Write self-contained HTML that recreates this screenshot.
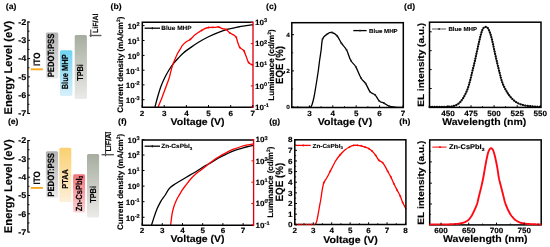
<!DOCTYPE html>
<html lang="en">
<head>
<meta charset="utf-8">
<title>Device energy levels, J-V-L, EQE and EL spectra</title>
<style>
html,body{margin:0;padding:0;background:#fff;}
body{width:550px;height:247px;overflow:hidden;}
svg{display:block;font-family:"Liberation Sans", Arial, sans-serif;text-rendering:geometricPrecision;}
</style>
</head>
<body>
<svg width="550" height="247" viewBox="0 0 550 247">
<rect x="0" y="0" width="550" height="247" fill="#ffffff"/>
<defs>
<linearGradient id="gGray" x1="0" y1="0" x2="0" y2="1"><stop offset="0" stop-color="#b2b2b2"/><stop offset="1" stop-color="#ebebeb"/></linearGradient>
<linearGradient id="gBlue" x1="0" y1="0" x2="0" y2="1"><stop offset="0" stop-color="#6fd3f2"/><stop offset="1" stop-color="#d8f0fa"/></linearGradient>
<linearGradient id="gTpbi" x1="0" y1="0" x2="0" y2="1"><stop offset="0" stop-color="#a6ad9f"/><stop offset="1" stop-color="#ebebe9"/></linearGradient>
<linearGradient id="gPtaa" x1="0" y1="0" x2="0" y2="1"><stop offset="0" stop-color="#fad070"/><stop offset="1" stop-color="#fdf0da"/></linearGradient>
<linearGradient id="gRed" x1="0" y1="0" x2="0" y2="1"><stop offset="0" stop-color="#f2747a"/><stop offset="1" stop-color="#fbd6d7"/></linearGradient>
</defs>
<text font-size="8.0" stroke="#000" stroke-width="0.14" text-anchor="start" fill="#000" font-weight="bold" transform="translate(5.80 9.20) scale(1.08 1)">(a)</text>
<line x1="27.90" y1="21.30" x2="27.90" y2="114.00" stroke="#000" stroke-width="1.3" stroke-linecap="butt"/>
<line x1="27.90" y1="22.00" x2="30.10" y2="22.00" stroke="#000" stroke-width="1.0" stroke-linecap="butt"/>
<line x1="27.90" y1="31.15" x2="29.50" y2="31.15" stroke="#000" stroke-width="0.9" stroke-linecap="butt"/>
<text font-size="8.4" stroke="#000" stroke-width="0.14" text-anchor="end" fill="#000" font-weight="bold" transform="translate(26.20 24.75) scale(1.08 1)">-2</text>
<line x1="27.90" y1="40.30" x2="30.10" y2="40.30" stroke="#000" stroke-width="1.0" stroke-linecap="butt"/>
<line x1="27.90" y1="49.45" x2="29.50" y2="49.45" stroke="#000" stroke-width="0.9" stroke-linecap="butt"/>
<text font-size="8.4" stroke="#000" stroke-width="0.14" text-anchor="end" fill="#000" font-weight="bold" transform="translate(26.20 43.05) scale(1.08 1)">-3</text>
<line x1="27.90" y1="58.60" x2="30.10" y2="58.60" stroke="#000" stroke-width="1.0" stroke-linecap="butt"/>
<line x1="27.90" y1="67.75" x2="29.50" y2="67.75" stroke="#000" stroke-width="0.9" stroke-linecap="butt"/>
<text font-size="8.4" stroke="#000" stroke-width="0.14" text-anchor="end" fill="#000" font-weight="bold" transform="translate(26.20 61.35) scale(1.08 1)">-4</text>
<line x1="27.90" y1="76.90" x2="30.10" y2="76.90" stroke="#000" stroke-width="1.0" stroke-linecap="butt"/>
<line x1="27.90" y1="86.05" x2="29.50" y2="86.05" stroke="#000" stroke-width="0.9" stroke-linecap="butt"/>
<text font-size="8.4" stroke="#000" stroke-width="0.14" text-anchor="end" fill="#000" font-weight="bold" transform="translate(26.20 79.65) scale(1.08 1)">-5</text>
<line x1="27.90" y1="95.20" x2="30.10" y2="95.20" stroke="#000" stroke-width="1.0" stroke-linecap="butt"/>
<line x1="27.90" y1="104.35" x2="29.50" y2="104.35" stroke="#000" stroke-width="0.9" stroke-linecap="butt"/>
<text font-size="8.4" stroke="#000" stroke-width="0.14" text-anchor="end" fill="#000" font-weight="bold" transform="translate(26.20 97.95) scale(1.08 1)">-6</text>
<line x1="27.90" y1="113.50" x2="30.10" y2="113.50" stroke="#000" stroke-width="1.0" stroke-linecap="butt"/>
<text font-size="8.4" stroke="#000" stroke-width="0.14" text-anchor="end" fill="#000" font-weight="bold" transform="translate(26.20 116.25) scale(1.08 1)">-7</text>
<text font-size="11.2" stroke="#000" stroke-width="0.14" text-anchor="middle" fill="#000" font-weight="bold" transform="translate(11.50 67.60) scale(1.0 1) rotate(-90)">Energy Level (eV)</text>
<line x1="30.70" y1="69.31" x2="42.90" y2="69.31" stroke="#f8a91f" stroke-width="1.9" stroke-linecap="butt"/>
<text font-size="8.1" stroke="#000" stroke-width="0.14" text-anchor="start" fill="#000" font-weight="bold" transform="translate(40.00 65.91) scale(1.15 1) rotate(-90)">ITO</text>
<rect x="45.90" y="32.60" width="12.40" height="46.00" fill="url(#gGray)" stroke="none" stroke-width="1.0" rx="1.5"/>
<text font-size="7.7" stroke="#000" stroke-width="0.14" text-anchor="middle" fill="#000" font-weight="bold" transform="translate(54.30 55.50) scale(1.18 1) rotate(-90)">PEDOT:PSS</text>
<rect x="60.00" y="50.20" width="12.40" height="45.70" fill="url(#gBlue)" stroke="none" stroke-width="1.0" rx="1.5"/>
<text font-size="7.5" stroke="#000" stroke-width="0.14" text-anchor="middle" fill="#000" font-weight="bold" transform="translate(68.10 71.80) scale(1.18 1) rotate(-90)">Blue MHP</text>
<rect x="74.70" y="34.90" width="12.20" height="64.20" fill="url(#gTpbi)" stroke="none" stroke-width="1.0" rx="1.5"/>
<text font-size="7.3" stroke="#000" stroke-width="0.14" text-anchor="middle" fill="#000" font-weight="bold" transform="translate(83.00 72.50) scale(1.18 1) rotate(-90)">TPBi</text>
<line x1="90.80" y1="29.50" x2="90.80" y2="37.10" stroke="#333" stroke-width="1.0" stroke-linecap="butt"/>
<line x1="89.50" y1="35.50" x2="101.40" y2="35.50" stroke="#5a5a5a" stroke-width="1.4" stroke-linecap="butt"/>
<text font-size="7.0" stroke="#000" stroke-width="0.14" text-anchor="start" fill="#000" font-weight="bold" transform="translate(97.50 33.00) scale(1.08 1) rotate(-90)">LiF/Al</text>
<text font-size="8.0" stroke="#000" stroke-width="0.14" text-anchor="start" fill="#000" font-weight="bold" transform="translate(7.90 123.70) scale(1.08 1)">(e)</text>
<line x1="27.90" y1="139.90" x2="27.90" y2="232.60" stroke="#000" stroke-width="1.3" stroke-linecap="butt"/>
<line x1="27.90" y1="140.60" x2="30.10" y2="140.60" stroke="#000" stroke-width="1.0" stroke-linecap="butt"/>
<line x1="27.90" y1="149.75" x2="29.50" y2="149.75" stroke="#000" stroke-width="0.9" stroke-linecap="butt"/>
<text font-size="8.4" stroke="#000" stroke-width="0.14" text-anchor="end" fill="#000" font-weight="bold" transform="translate(26.20 143.35) scale(1.08 1)">-2</text>
<line x1="27.90" y1="158.90" x2="30.10" y2="158.90" stroke="#000" stroke-width="1.0" stroke-linecap="butt"/>
<line x1="27.90" y1="168.05" x2="29.50" y2="168.05" stroke="#000" stroke-width="0.9" stroke-linecap="butt"/>
<text font-size="8.4" stroke="#000" stroke-width="0.14" text-anchor="end" fill="#000" font-weight="bold" transform="translate(26.20 161.65) scale(1.08 1)">-3</text>
<line x1="27.90" y1="177.20" x2="30.10" y2="177.20" stroke="#000" stroke-width="1.0" stroke-linecap="butt"/>
<line x1="27.90" y1="186.35" x2="29.50" y2="186.35" stroke="#000" stroke-width="0.9" stroke-linecap="butt"/>
<text font-size="8.4" stroke="#000" stroke-width="0.14" text-anchor="end" fill="#000" font-weight="bold" transform="translate(26.20 179.95) scale(1.08 1)">-4</text>
<line x1="27.90" y1="195.50" x2="30.10" y2="195.50" stroke="#000" stroke-width="1.0" stroke-linecap="butt"/>
<line x1="27.90" y1="204.65" x2="29.50" y2="204.65" stroke="#000" stroke-width="0.9" stroke-linecap="butt"/>
<text font-size="8.4" stroke="#000" stroke-width="0.14" text-anchor="end" fill="#000" font-weight="bold" transform="translate(26.20 198.25) scale(1.08 1)">-5</text>
<line x1="27.90" y1="213.80" x2="30.10" y2="213.80" stroke="#000" stroke-width="1.0" stroke-linecap="butt"/>
<line x1="27.90" y1="222.95" x2="29.50" y2="222.95" stroke="#000" stroke-width="0.9" stroke-linecap="butt"/>
<text font-size="8.4" stroke="#000" stroke-width="0.14" text-anchor="end" fill="#000" font-weight="bold" transform="translate(26.20 216.55) scale(1.08 1)">-6</text>
<line x1="27.90" y1="232.10" x2="30.10" y2="232.10" stroke="#000" stroke-width="1.0" stroke-linecap="butt"/>
<text font-size="8.4" stroke="#000" stroke-width="0.14" text-anchor="end" fill="#000" font-weight="bold" transform="translate(26.20 234.85) scale(1.08 1)">-7</text>
<text font-size="11.2" stroke="#000" stroke-width="0.14" text-anchor="middle" fill="#000" font-weight="bold" transform="translate(11.50 186.20) scale(1.0 1) rotate(-90)">Energy Level (eV)</text>
<line x1="30.70" y1="187.91" x2="42.90" y2="187.91" stroke="#f8a91f" stroke-width="1.9" stroke-linecap="butt"/>
<text font-size="8.1" stroke="#000" stroke-width="0.14" text-anchor="start" fill="#000" font-weight="bold" transform="translate(40.00 184.51) scale(1.15 1) rotate(-90)">ITO</text>
<rect x="45.90" y="151.30" width="12.20" height="46.50" fill="url(#gGray)" stroke="none" stroke-width="1.0" rx="1.5"/>
<text font-size="7.7" stroke="#000" stroke-width="0.14" text-anchor="middle" fill="#000" font-weight="bold" transform="translate(54.30 174.90) scale(1.18 1) rotate(-90)">PEDOT:PSS</text>
<rect x="59.30" y="147.70" width="12.00" height="54.30" fill="url(#gPtaa)" stroke="none" stroke-width="1.0" rx="1.5"/>
<text font-size="7.3" stroke="#000" stroke-width="0.14" text-anchor="middle" fill="#000" font-weight="bold" transform="translate(68.40 179.00) scale(1.18 1) rotate(-90)">PTAA</text>
<rect x="73.10" y="174.20" width="12.00" height="38.40" fill="url(#gRed)" stroke="none" stroke-width="1.0" rx="1.5"/>
<text font-size="7.5" stroke="#000" stroke-width="0.14" text-anchor="middle" fill="#000" font-weight="bold" transform="translate(81.60 193.50) scale(1.18 1) rotate(-90)">Zn-CsPbI<tspan font-size="4.9" dy="1.5">3</tspan></text>
<rect x="87.00" y="153.90" width="12.10" height="63.70" fill="url(#gTpbi)" stroke="none" stroke-width="1.0" rx="1.5"/>
<text font-size="7.3" stroke="#000" stroke-width="0.14" text-anchor="middle" fill="#000" font-weight="bold" transform="translate(95.60 194.40) scale(1.18 1) rotate(-90)">TPBi</text>
<line x1="105.60" y1="131.80" x2="105.60" y2="156.30" stroke="#333" stroke-width="1.0" stroke-linecap="butt"/>
<line x1="101.60" y1="154.70" x2="113.90" y2="154.70" stroke="#5a5a5a" stroke-width="1.4" stroke-linecap="butt"/>
<text font-size="7.2" stroke="#000" stroke-width="0.14" text-anchor="start" fill="#000" font-weight="bold" transform="translate(111.20 151.60) scale(1.08 1) rotate(-90)">LiF/Al</text>
<text font-size="8.0" stroke="#000" stroke-width="0.14" text-anchor="start" fill="#000" font-weight="bold" transform="translate(110.60 9.10) scale(1.08 1)">(b)</text>
<path d="M154.90,107.20 C155.37,105.47 156.72,100.20 157.70,96.80 C158.68,93.40 159.65,89.93 160.80,86.80 C161.95,83.67 163.23,80.80 164.60,78.00 C165.97,75.20 167.53,72.38 169.00,70.00 C170.47,67.62 171.83,65.70 173.40,63.70 C174.97,61.70 176.73,59.78 178.40,58.00 C180.07,56.22 181.32,54.77 183.40,53.00 C185.48,51.23 188.38,49.18 190.90,47.40 C193.42,45.62 195.65,44.03 198.50,42.30 C201.35,40.57 204.75,38.62 208.00,37.00 C211.25,35.38 214.67,33.90 218.00,32.60 C221.33,31.30 224.67,30.13 228.00,29.20 C231.33,28.27 235.00,27.58 238.00,27.00 C241.00,26.42 243.53,26.07 246.00,25.70 C248.47,25.33 251.67,24.95 252.80,24.80" fill="none" stroke="#000" stroke-width="1.3" stroke-linejoin="round" stroke-linecap="round"/>
<path d="M158.00,107.20 C158.47,106.10 159.70,103.38 160.80,100.60 C161.90,97.82 163.23,94.18 164.60,90.50 C165.97,86.82 167.95,81.72 169.00,78.50 C170.05,75.28 170.28,73.47 170.90,71.20 C171.52,68.93 171.98,66.98 172.70,64.90 C173.42,62.82 174.35,60.68 175.20,58.70 C176.05,56.72 176.85,54.78 177.80,53.00 C178.75,51.22 180.17,49.22 180.90,48.00 C181.63,46.78 181.37,46.70 182.20,45.70 C183.03,44.70 184.55,43.05 185.90,42.00 C187.25,40.95 188.83,40.55 190.30,39.40 C191.77,38.25 193.13,36.40 194.70,35.10 C196.27,33.80 198.23,32.57 199.70,31.60 C201.17,30.63 202.03,29.98 203.50,29.30 C204.97,28.62 206.62,27.83 208.50,27.50 C210.38,27.17 213.12,27.38 214.80,27.30 C216.48,27.22 217.35,26.78 218.60,27.00 C219.85,27.22 221.05,28.20 222.30,28.60 C223.55,29.00 224.83,28.67 226.10,29.40 C227.37,30.13 228.65,32.08 229.90,33.00 C231.15,33.92 232.55,34.20 233.60,34.90 C234.65,35.60 235.53,36.02 236.20,37.20 C236.87,38.38 236.98,40.27 237.60,42.00 C238.22,43.73 238.88,46.18 239.90,47.60 C240.92,49.02 242.65,49.02 243.70,50.50 C244.75,51.98 245.37,54.48 246.20,56.50 C247.03,58.52 247.60,61.20 248.70,62.60 C249.80,64.00 252.12,64.52 252.80,64.90" fill="none" stroke="#f00" stroke-width="1.3" stroke-linejoin="round" stroke-linecap="round"/>
<polyline points="253.00,22.20 142.30,22.20 142.30,107.20 253.00,107.20" fill="none" stroke="#000" stroke-width="1.5" stroke-linejoin="miter"/>
<line x1="253.00" y1="21.45" x2="253.00" y2="107.95" stroke="#e2000e" stroke-width="1.35" stroke-linecap="butt"/>
<line x1="142.30" y1="25.60" x2="144.50" y2="25.60" stroke="#000" stroke-width="1.0" stroke-linecap="butt"/>
<text font-size="7.5" stroke="#000" stroke-width="0.14" text-anchor="end" fill="#000" font-weight="bold" transform="translate(139.70 28.90) scale(1.08 1)">10<tspan font-size="5.25" dy="-2.85">2</tspan></text>
<line x1="142.30" y1="40.50" x2="144.50" y2="40.50" stroke="#000" stroke-width="1.0" stroke-linecap="butt"/>
<text font-size="7.5" stroke="#000" stroke-width="0.14" text-anchor="end" fill="#000" font-weight="bold" transform="translate(139.70 43.80) scale(1.08 1)">10<tspan font-size="5.25" dy="-2.85">1</tspan></text>
<line x1="142.30" y1="55.40" x2="144.50" y2="55.40" stroke="#000" stroke-width="1.0" stroke-linecap="butt"/>
<text font-size="7.5" stroke="#000" stroke-width="0.14" text-anchor="end" fill="#000" font-weight="bold" transform="translate(139.70 58.70) scale(1.08 1)">10<tspan font-size="5.25" dy="-2.85">0</tspan></text>
<line x1="142.30" y1="70.20" x2="144.50" y2="70.20" stroke="#000" stroke-width="1.0" stroke-linecap="butt"/>
<text font-size="7.5" stroke="#000" stroke-width="0.14" text-anchor="end" fill="#000" font-weight="bold" transform="translate(139.70 73.50) scale(1.08 1)">10<tspan font-size="5.25" dy="-2.85">-1</tspan></text>
<line x1="142.30" y1="84.90" x2="144.50" y2="84.90" stroke="#000" stroke-width="1.0" stroke-linecap="butt"/>
<text font-size="7.5" stroke="#000" stroke-width="0.14" text-anchor="end" fill="#000" font-weight="bold" transform="translate(139.70 88.20) scale(1.08 1)">10<tspan font-size="5.25" dy="-2.85">-2</tspan></text>
<line x1="142.30" y1="99.70" x2="144.50" y2="99.70" stroke="#000" stroke-width="1.0" stroke-linecap="butt"/>
<text font-size="7.5" stroke="#000" stroke-width="0.14" text-anchor="end" fill="#000" font-weight="bold" transform="translate(139.70 103.00) scale(1.08 1)">10<tspan font-size="5.25" dy="-2.85">-3</tspan></text>
<line x1="250.80" y1="22.40" x2="253.00" y2="22.40" stroke="#e8000a" stroke-width="1.0" stroke-linecap="butt"/>
<text font-size="7.5" stroke="#000" stroke-width="0.14" text-anchor="start" fill="#000" font-weight="bold" transform="translate(254.90 25.15) scale(1.08 1)">10<tspan font-size="5.25" dy="-2.85">3</tspan></text>
<line x1="250.80" y1="43.60" x2="253.00" y2="43.60" stroke="#e8000a" stroke-width="1.0" stroke-linecap="butt"/>
<text font-size="7.5" stroke="#000" stroke-width="0.14" text-anchor="start" fill="#000" font-weight="bold" transform="translate(254.90 46.35) scale(1.08 1)">10<tspan font-size="5.25" dy="-2.85">2</tspan></text>
<line x1="250.80" y1="64.70" x2="253.00" y2="64.70" stroke="#e8000a" stroke-width="1.0" stroke-linecap="butt"/>
<text font-size="7.5" stroke="#000" stroke-width="0.14" text-anchor="start" fill="#000" font-weight="bold" transform="translate(254.90 67.45) scale(1.08 1)">10<tspan font-size="5.25" dy="-2.85">1</tspan></text>
<line x1="250.80" y1="85.90" x2="253.00" y2="85.90" stroke="#e8000a" stroke-width="1.0" stroke-linecap="butt"/>
<text font-size="7.5" stroke="#000" stroke-width="0.14" text-anchor="start" fill="#000" font-weight="bold" transform="translate(254.90 88.65) scale(1.08 1)">10<tspan font-size="5.25" dy="-2.85">0</tspan></text>
<line x1="250.80" y1="107.00" x2="253.00" y2="107.00" stroke="#e8000a" stroke-width="1.0" stroke-linecap="butt"/>
<text font-size="7.5" stroke="#000" stroke-width="0.14" text-anchor="start" fill="#000" font-weight="bold" transform="translate(254.90 109.75) scale(1.08 1)">10<tspan font-size="5.25" dy="-2.85">-1</tspan></text>
<line x1="142.10" y1="107.20" x2="142.10" y2="105.00" stroke="#000" stroke-width="1.0" stroke-linecap="butt"/>
<text font-size="7.5" stroke="#000" stroke-width="0.14" text-anchor="middle" fill="#000" font-weight="bold" transform="translate(142.10 115.70) scale(1.08 1)">2</text>
<line x1="164.20" y1="107.20" x2="164.20" y2="105.00" stroke="#000" stroke-width="1.0" stroke-linecap="butt"/>
<text font-size="7.5" stroke="#000" stroke-width="0.14" text-anchor="middle" fill="#000" font-weight="bold" transform="translate(164.20 115.70) scale(1.08 1)">3</text>
<line x1="186.40" y1="107.20" x2="186.40" y2="105.00" stroke="#000" stroke-width="1.0" stroke-linecap="butt"/>
<text font-size="7.5" stroke="#000" stroke-width="0.14" text-anchor="middle" fill="#000" font-weight="bold" transform="translate(186.40 115.70) scale(1.08 1)">4</text>
<line x1="208.50" y1="107.20" x2="208.50" y2="105.00" stroke="#000" stroke-width="1.0" stroke-linecap="butt"/>
<text font-size="7.5" stroke="#000" stroke-width="0.14" text-anchor="middle" fill="#000" font-weight="bold" transform="translate(208.50 115.70) scale(1.08 1)">5</text>
<line x1="230.70" y1="107.20" x2="230.70" y2="105.00" stroke="#000" stroke-width="1.0" stroke-linecap="butt"/>
<text font-size="7.5" stroke="#000" stroke-width="0.14" text-anchor="middle" fill="#000" font-weight="bold" transform="translate(230.70 115.70) scale(1.08 1)">6</text>
<line x1="252.80" y1="107.20" x2="252.80" y2="105.00" stroke="#000" stroke-width="1.0" stroke-linecap="butt"/>
<text font-size="7.5" stroke="#000" stroke-width="0.14" text-anchor="middle" fill="#000" font-weight="bold" transform="translate(252.80 115.70) scale(1.08 1)">7</text>
<text font-size="9.8" stroke="#000" stroke-width="0.14" text-anchor="middle" fill="#000" font-weight="bold" transform="translate(197.60 125.00) scale(1.08 1)" textLength="50.00" lengthAdjust="spacingAndGlyphs">Voltage (V)</text>
<text font-size="8.0" stroke="#000" stroke-width="0.14" text-anchor="middle" fill="#000" font-weight="bold" transform="translate(123.00 64.70) scale(1.0 1) rotate(-90)">Current density (mA/cm<tspan font-size="5" dy="-2.9">2</tspan><tspan dy="2.9">)</tspan></text>
<text font-size="8.0" stroke="#000" stroke-width="0.14" text-anchor="middle" fill="#000" font-weight="bold" transform="translate(274.10 65.00) scale(1.0 1) rotate(-90)">Luminance (cd/m<tspan font-size="5" dy="-2.9">2</tspan><tspan dy="2.9">)</tspan></text>
<line x1="144.60" y1="28.20" x2="160.00" y2="28.20" stroke="#000" stroke-width="1.3" stroke-linecap="butt"/>
<line x1="152.30" y1="27.00" x2="152.30" y2="29.40" stroke="#000" stroke-width="0.8" stroke-linecap="butt"/>
<text font-size="6.0" stroke="#000" stroke-width="0.1" text-anchor="start" fill="#000" font-weight="bold" transform="translate(161.30 30.20) scale(1.08 1)">Blue MHP</text>
<path d="M189.30,39.30h2.00M190.30,38.30v2.00M200.60,30.60h2.00M201.60,29.60v2.00M207.50,27.50h2.00M208.50,26.50v2.00M211.90,27.40h2.00M212.90,26.40v2.00M217.30,27.00h2.00M218.30,26.00v2.00M225.10,29.40h2.00M226.10,28.40v2.00M228.90,33.00h2.00M229.90,32.00v2.00M235.20,37.20h2.00M236.20,36.20v2.00M238.90,47.60h2.00M239.90,46.60v2.00M243.00,50.80h2.00M244.00,49.80v2.00M247.70,62.60h2.00M248.70,61.60v2.00" fill="none" stroke="#f00" stroke-width="0.7"/>
<text font-size="8.0" stroke="#000" stroke-width="0.14" text-anchor="start" fill="#000" font-weight="bold" transform="translate(118.10 123.80) scale(1.08 1)">(f)</text>
<path d="M151.50,225.30 C151.90,224.02 152.97,220.35 153.90,217.60 C154.83,214.85 155.95,211.52 157.10,208.80 C158.25,206.08 159.50,203.52 160.80,201.30 C162.10,199.08 163.53,197.58 164.90,195.50 C166.27,193.42 167.58,190.53 169.00,188.80 C170.42,187.07 171.63,186.35 173.40,185.10 C175.17,183.85 177.52,182.57 179.60,181.30 C181.68,180.03 183.80,178.75 185.90,177.50 C188.00,176.25 190.10,175.05 192.20,173.80 C194.30,172.55 196.20,171.42 198.50,170.00 C200.80,168.58 203.92,166.53 206.00,165.30 C208.08,164.07 208.48,164.03 211.00,162.60 C213.52,161.17 217.33,158.67 221.10,156.70 C224.87,154.73 229.42,152.42 233.60,150.80 C237.78,149.18 242.90,147.92 246.20,147.00 C249.50,146.08 252.20,145.58 253.40,145.30" fill="none" stroke="#000" stroke-width="1.3" stroke-linejoin="round" stroke-linecap="round"/>
<path d="M170.60,225.30 C170.85,223.38 171.53,216.97 172.10,213.80 C172.67,210.63 173.27,208.60 174.00,206.30 C174.73,204.00 175.67,201.80 176.50,200.00 C177.33,198.20 178.05,197.15 179.00,195.50 C179.95,193.85 181.05,191.83 182.20,190.10 C183.35,188.37 184.45,186.98 185.90,185.10 C187.35,183.22 189.22,180.68 190.90,178.80 C192.58,176.92 194.32,175.27 196.00,173.80 C197.68,172.33 199.02,171.53 201.00,170.00 C202.98,168.47 205.60,166.40 207.90,164.60 C210.20,162.80 212.60,160.73 214.80,159.20 C217.00,157.67 219.00,156.58 221.10,155.40 C223.20,154.22 225.32,153.13 227.40,152.10 C229.48,151.07 231.52,150.05 233.60,149.20 C235.68,148.35 237.80,147.67 239.90,147.00 C242.00,146.33 243.95,145.73 246.20,145.20 C248.45,144.67 252.20,144.03 253.40,143.80" fill="none" stroke="#f00" stroke-width="1.3" stroke-linejoin="round" stroke-linecap="round"/>
<polyline points="253.60,139.90 142.30,139.90 142.30,225.30 253.60,225.30" fill="none" stroke="#000" stroke-width="1.5" stroke-linejoin="miter"/>
<line x1="253.60" y1="139.15" x2="253.60" y2="226.05" stroke="#e2000e" stroke-width="1.35" stroke-linecap="butt"/>
<line x1="142.30" y1="139.60" x2="144.50" y2="139.60" stroke="#000" stroke-width="1.0" stroke-linecap="butt"/>
<text font-size="7.5" stroke="#000" stroke-width="0.14" text-anchor="end" fill="#000" font-weight="bold" transform="translate(139.70 142.90) scale(1.08 1)">10<tspan font-size="5.25" dy="-2.85">3</tspan></text>
<line x1="142.30" y1="155.00" x2="144.50" y2="155.00" stroke="#000" stroke-width="1.0" stroke-linecap="butt"/>
<text font-size="7.5" stroke="#000" stroke-width="0.14" text-anchor="end" fill="#000" font-weight="bold" transform="translate(139.70 158.30) scale(1.08 1)">10<tspan font-size="5.25" dy="-2.85">2</tspan></text>
<line x1="142.30" y1="170.50" x2="144.50" y2="170.50" stroke="#000" stroke-width="1.0" stroke-linecap="butt"/>
<text font-size="7.5" stroke="#000" stroke-width="0.14" text-anchor="end" fill="#000" font-weight="bold" transform="translate(139.70 173.80) scale(1.08 1)">10<tspan font-size="5.25" dy="-2.85">1</tspan></text>
<line x1="142.30" y1="186.10" x2="144.50" y2="186.10" stroke="#000" stroke-width="1.0" stroke-linecap="butt"/>
<text font-size="7.5" stroke="#000" stroke-width="0.14" text-anchor="end" fill="#000" font-weight="bold" transform="translate(139.70 189.40) scale(1.08 1)">10<tspan font-size="5.25" dy="-2.85">0</tspan></text>
<line x1="142.30" y1="201.70" x2="144.50" y2="201.70" stroke="#000" stroke-width="1.0" stroke-linecap="butt"/>
<text font-size="7.5" stroke="#000" stroke-width="0.14" text-anchor="end" fill="#000" font-weight="bold" transform="translate(139.70 205.00) scale(1.08 1)">10<tspan font-size="5.25" dy="-2.85">-1</tspan></text>
<line x1="142.30" y1="217.30" x2="144.50" y2="217.30" stroke="#000" stroke-width="1.0" stroke-linecap="butt"/>
<text font-size="7.5" stroke="#000" stroke-width="0.14" text-anchor="end" fill="#000" font-weight="bold" transform="translate(139.70 220.60) scale(1.08 1)">10<tspan font-size="5.25" dy="-2.85">-2</tspan></text>
<line x1="251.40" y1="139.60" x2="253.60" y2="139.60" stroke="#e8000a" stroke-width="1.0" stroke-linecap="butt"/>
<text font-size="7.5" stroke="#000" stroke-width="0.14" text-anchor="start" fill="#000" font-weight="bold" transform="translate(255.50 142.35) scale(1.08 1)">10<tspan font-size="5.25" dy="-2.85">3</tspan></text>
<line x1="251.40" y1="160.90" x2="253.60" y2="160.90" stroke="#e8000a" stroke-width="1.0" stroke-linecap="butt"/>
<text font-size="7.5" stroke="#000" stroke-width="0.14" text-anchor="start" fill="#000" font-weight="bold" transform="translate(255.50 163.65) scale(1.08 1)">10<tspan font-size="5.25" dy="-2.85">2</tspan></text>
<line x1="251.40" y1="182.20" x2="253.60" y2="182.20" stroke="#e8000a" stroke-width="1.0" stroke-linecap="butt"/>
<text font-size="7.5" stroke="#000" stroke-width="0.14" text-anchor="start" fill="#000" font-weight="bold" transform="translate(255.50 184.95) scale(1.08 1)">10<tspan font-size="5.25" dy="-2.85">1</tspan></text>
<line x1="251.40" y1="203.50" x2="253.60" y2="203.50" stroke="#e8000a" stroke-width="1.0" stroke-linecap="butt"/>
<text font-size="7.5" stroke="#000" stroke-width="0.14" text-anchor="start" fill="#000" font-weight="bold" transform="translate(255.50 206.25) scale(1.08 1)">10<tspan font-size="5.25" dy="-2.85">0</tspan></text>
<line x1="251.40" y1="224.80" x2="253.60" y2="224.80" stroke="#e8000a" stroke-width="1.0" stroke-linecap="butt"/>
<text font-size="7.5" stroke="#000" stroke-width="0.14" text-anchor="start" fill="#000" font-weight="bold" transform="translate(255.50 227.55) scale(1.08 1)">10<tspan font-size="5.25" dy="-2.85">-1</tspan></text>
<line x1="142.10" y1="225.30" x2="142.10" y2="223.10" stroke="#000" stroke-width="1.0" stroke-linecap="butt"/>
<text font-size="7.5" stroke="#000" stroke-width="0.14" text-anchor="middle" fill="#000" font-weight="bold" transform="translate(142.10 232.70) scale(1.08 1)">2</text>
<line x1="162.30" y1="225.30" x2="162.30" y2="223.10" stroke="#000" stroke-width="1.0" stroke-linecap="butt"/>
<text font-size="7.5" stroke="#000" stroke-width="0.14" text-anchor="middle" fill="#000" font-weight="bold" transform="translate(162.30 232.70) scale(1.08 1)">3</text>
<line x1="182.50" y1="225.30" x2="182.50" y2="223.10" stroke="#000" stroke-width="1.0" stroke-linecap="butt"/>
<text font-size="7.5" stroke="#000" stroke-width="0.14" text-anchor="middle" fill="#000" font-weight="bold" transform="translate(182.50 232.70) scale(1.08 1)">4</text>
<line x1="202.70" y1="225.30" x2="202.70" y2="223.10" stroke="#000" stroke-width="1.0" stroke-linecap="butt"/>
<text font-size="7.5" stroke="#000" stroke-width="0.14" text-anchor="middle" fill="#000" font-weight="bold" transform="translate(202.70 232.70) scale(1.08 1)">5</text>
<line x1="222.90" y1="225.30" x2="222.90" y2="223.10" stroke="#000" stroke-width="1.0" stroke-linecap="butt"/>
<text font-size="7.5" stroke="#000" stroke-width="0.14" text-anchor="middle" fill="#000" font-weight="bold" transform="translate(222.90 232.70) scale(1.08 1)">6</text>
<line x1="243.10" y1="225.30" x2="243.10" y2="223.10" stroke="#000" stroke-width="1.0" stroke-linecap="butt"/>
<text font-size="7.5" stroke="#000" stroke-width="0.14" text-anchor="middle" fill="#000" font-weight="bold" transform="translate(243.10 232.70) scale(1.08 1)">7</text>
<text font-size="9.8" stroke="#000" stroke-width="0.14" text-anchor="middle" fill="#000" font-weight="bold" transform="translate(197.60 241.80) scale(1.08 1)" textLength="50.00" lengthAdjust="spacingAndGlyphs">Voltage (V)</text>
<text font-size="8.0" stroke="#000" stroke-width="0.14" text-anchor="middle" fill="#000" font-weight="bold" transform="translate(123.00 181.90) scale(1.0 1) rotate(-90)">Current density (mA/cm<tspan font-size="5" dy="-2.9">2</tspan><tspan dy="2.9">)</tspan></text>
<text font-size="8.0" stroke="#000" stroke-width="0.14" text-anchor="middle" fill="#000" font-weight="bold" transform="translate(272.90 182.20) scale(1.0 1) rotate(-90)">Luminance (cd/m<tspan font-size="5" dy="-2.9">2</tspan><tspan dy="2.9">)</tspan></text>
<line x1="144.60" y1="146.20" x2="160.00" y2="146.20" stroke="#000" stroke-width="1.3" stroke-linecap="butt"/>
<line x1="152.30" y1="145.00" x2="152.30" y2="147.40" stroke="#000" stroke-width="0.8" stroke-linecap="butt"/>
<text font-size="6.0" stroke="#000" stroke-width="0.1" text-anchor="start" fill="#000" font-weight="bold" transform="translate(161.30 148.20) scale(1.08 1)">Zn-CsPbI<tspan font-size="4.2" dy="1.3">3</tspan></text>
<path d="M291.50,107.30 C294.47,107.30 306.10,107.35 309.30,107.30 C312.50,107.25 310.27,107.38 310.70,107.00 C311.13,106.62 311.38,106.50 311.90,105.00 C312.42,103.50 313.18,100.83 313.80,98.00 C314.42,95.17 315.03,91.33 315.60,88.00 C316.17,84.67 316.73,81.00 317.20,78.00 C317.67,75.00 318.00,72.92 318.40,70.00 C318.80,67.08 319.13,63.92 319.60,60.50 C320.07,57.08 320.70,53.12 321.20,49.50 C321.70,45.88 321.53,41.42 322.60,38.80 C323.67,36.18 326.03,34.85 327.60,33.80 C329.17,32.75 330.43,32.18 332.00,32.50 C333.57,32.82 335.43,33.92 337.00,35.70 C338.57,37.48 339.82,40.85 341.40,43.20 C342.98,45.55 344.93,46.92 346.50,49.80 C348.07,52.68 349.25,57.67 350.80,60.50 C352.35,63.33 354.10,63.88 355.80,66.80 C357.50,69.72 359.35,75.20 361.00,78.00 C362.65,80.80 364.18,81.30 365.70,83.60 C367.22,85.90 368.53,89.92 370.10,91.80 C371.67,93.68 373.53,93.33 375.10,94.90 C376.67,96.47 378.03,99.83 379.50,101.20 C380.97,102.57 382.33,102.30 383.90,103.10 C385.47,103.90 387.02,105.33 388.90,106.00 C390.78,106.67 392.85,106.88 395.20,107.10 C397.55,107.32 401.70,107.27 403.00,107.30" fill="none" stroke="#000" stroke-width="1.3" stroke-linejoin="round" stroke-linecap="round"/>
<rect x="321.80" y="38.00" width="1.60" height="1.60" fill="#222" stroke="none" stroke-width="1.0" rx="0"/>
<rect x="326.80" y="33.00" width="1.60" height="1.60" fill="#222" stroke="none" stroke-width="1.0" rx="0"/>
<rect x="331.20" y="31.70" width="1.60" height="1.60" fill="#222" stroke="none" stroke-width="1.0" rx="0"/>
<rect x="336.20" y="34.90" width="1.60" height="1.60" fill="#222" stroke="none" stroke-width="1.0" rx="0"/>
<rect x="340.60" y="42.40" width="1.60" height="1.60" fill="#222" stroke="none" stroke-width="1.0" rx="0"/>
<rect x="345.70" y="49.00" width="1.60" height="1.60" fill="#222" stroke="none" stroke-width="1.0" rx="0"/>
<rect x="350.00" y="59.70" width="1.60" height="1.60" fill="#222" stroke="none" stroke-width="1.0" rx="0"/>
<rect x="355.00" y="66.00" width="1.60" height="1.60" fill="#222" stroke="none" stroke-width="1.0" rx="0"/>
<rect x="360.20" y="77.20" width="1.60" height="1.60" fill="#222" stroke="none" stroke-width="1.0" rx="0"/>
<rect x="364.90" y="82.80" width="1.60" height="1.60" fill="#222" stroke="none" stroke-width="1.0" rx="0"/>
<rect x="369.30" y="91.00" width="1.60" height="1.60" fill="#222" stroke="none" stroke-width="1.0" rx="0"/>
<rect x="374.30" y="94.10" width="1.60" height="1.60" fill="#222" stroke="none" stroke-width="1.0" rx="0"/>
<rect x="378.70" y="100.40" width="1.60" height="1.60" fill="#222" stroke="none" stroke-width="1.0" rx="0"/>
<rect x="383.10" y="102.30" width="1.60" height="1.60" fill="#222" stroke="none" stroke-width="1.0" rx="0"/>
<rect x="388.10" y="105.10" width="1.60" height="1.60" fill="#222" stroke="none" stroke-width="1.0" rx="0"/>
<text font-size="8.0" stroke="#000" stroke-width="0.14" text-anchor="start" fill="#000" font-weight="bold" transform="translate(266.00 9.10) scale(1.08 1)">(c)</text>
<rect x="291.80" y="22.70" width="111.50" height="84.80" fill="none" stroke="#000" stroke-width="1.5" rx="0"/>
<line x1="291.80" y1="34.70" x2="294.00" y2="34.70" stroke="#000" stroke-width="1.0" stroke-linecap="butt"/>
<text font-size="6.0" stroke="#000" stroke-width="0.1" text-anchor="end" fill="#000" font-weight="bold" transform="translate(289.90 36.90) scale(1.08 1)">4</text>
<line x1="291.80" y1="70.90" x2="294.00" y2="70.90" stroke="#000" stroke-width="1.0" stroke-linecap="butt"/>
<text font-size="6.0" stroke="#000" stroke-width="0.1" text-anchor="end" fill="#000" font-weight="bold" transform="translate(289.90 73.10) scale(1.08 1)">2</text>
<line x1="291.80" y1="107.00" x2="294.00" y2="107.00" stroke="#000" stroke-width="1.0" stroke-linecap="butt"/>
<text font-size="6.0" stroke="#000" stroke-width="0.1" text-anchor="end" fill="#000" font-weight="bold" transform="translate(289.90 109.20) scale(1.08 1)">0</text>
<line x1="291.80" y1="52.80" x2="293.20" y2="52.80" stroke="#000" stroke-width="0.8" stroke-linecap="butt"/>
<line x1="291.80" y1="89.00" x2="293.20" y2="89.00" stroke="#000" stroke-width="0.8" stroke-linecap="butt"/>
<line x1="309.40" y1="107.50" x2="309.40" y2="105.30" stroke="#000" stroke-width="1.0" stroke-linecap="butt"/>
<text font-size="7.5" stroke="#000" stroke-width="0.14" text-anchor="middle" fill="#000" font-weight="bold" transform="translate(309.40 115.70) scale(1.08 1)">3</text>
<line x1="332.80" y1="107.50" x2="332.80" y2="105.30" stroke="#000" stroke-width="1.0" stroke-linecap="butt"/>
<text font-size="7.5" stroke="#000" stroke-width="0.14" text-anchor="middle" fill="#000" font-weight="bold" transform="translate(332.80 115.70) scale(1.08 1)">4</text>
<line x1="356.20" y1="107.50" x2="356.20" y2="105.30" stroke="#000" stroke-width="1.0" stroke-linecap="butt"/>
<text font-size="7.5" stroke="#000" stroke-width="0.14" text-anchor="middle" fill="#000" font-weight="bold" transform="translate(356.20 115.70) scale(1.08 1)">5</text>
<line x1="379.60" y1="107.50" x2="379.60" y2="105.30" stroke="#000" stroke-width="1.0" stroke-linecap="butt"/>
<text font-size="7.5" stroke="#000" stroke-width="0.14" text-anchor="middle" fill="#000" font-weight="bold" transform="translate(379.60 115.70) scale(1.08 1)">6</text>
<line x1="403.00" y1="107.50" x2="403.00" y2="105.30" stroke="#000" stroke-width="1.0" stroke-linecap="butt"/>
<text font-size="7.5" stroke="#000" stroke-width="0.14" text-anchor="middle" fill="#000" font-weight="bold" transform="translate(403.00 115.70) scale(1.08 1)">7</text>
<line x1="297.70" y1="107.50" x2="297.70" y2="106.10" stroke="#000" stroke-width="0.8" stroke-linecap="butt"/>
<line x1="321.10" y1="107.50" x2="321.10" y2="106.10" stroke="#000" stroke-width="0.8" stroke-linecap="butt"/>
<line x1="344.50" y1="107.50" x2="344.50" y2="106.10" stroke="#000" stroke-width="0.8" stroke-linecap="butt"/>
<line x1="367.90" y1="107.50" x2="367.90" y2="106.10" stroke="#000" stroke-width="0.8" stroke-linecap="butt"/>
<line x1="391.30" y1="107.50" x2="391.30" y2="106.10" stroke="#000" stroke-width="0.8" stroke-linecap="butt"/>
<text font-size="9.8" stroke="#000" stroke-width="0.14" text-anchor="middle" fill="#000" font-weight="bold" transform="translate(345.00 125.00) scale(1.08 1)" textLength="50.28" lengthAdjust="spacingAndGlyphs">Voltage (V)</text>
<text font-size="9.6" stroke="#000" stroke-width="0.14" text-anchor="middle" fill="#000" font-weight="bold" transform="translate(283.00 65.00) scale(1.08 1) rotate(-90)">EQE (%)</text>
<line x1="353.30" y1="30.60" x2="366.60" y2="30.60" stroke="#000" stroke-width="1.3" stroke-linecap="butt"/>
<rect x="359.20" y="29.80" width="1.60" height="1.60" fill="#222" stroke="none" stroke-width="1.0" rx="0"/>
<text font-size="5.7" stroke="#000" stroke-width="0.1" text-anchor="start" fill="#000" font-weight="bold" transform="translate(369.00 32.60) scale(1.08 1)">Blue MHP</text>
<path d="M315.60,224.40 C315.83,223.68 316.57,221.87 317.00,220.10 C317.43,218.33 317.78,216.10 318.20,213.80 C318.62,211.50 319.08,208.60 319.50,206.30 C319.92,204.00 320.35,202.05 320.70,200.00 C321.05,197.95 321.32,195.87 321.60,194.00 C321.88,192.13 322.02,190.70 322.40,188.80 C322.78,186.90 323.13,184.48 323.90,182.60 C324.67,180.72 325.95,179.38 327.00,177.50 C328.05,175.62 329.15,173.33 330.20,171.30 C331.25,169.27 332.37,167.08 333.30,165.30 C334.23,163.52 334.65,162.35 335.80,160.60 C336.95,158.85 338.63,156.60 340.20,154.80 C341.77,153.00 343.65,151.10 345.20,149.80 C346.75,148.50 348.10,147.73 349.50,147.00 C350.90,146.27 352.27,145.68 353.60,145.40 C354.93,145.12 356.22,145.23 357.50,145.30 C358.78,145.37 360.03,145.50 361.30,145.80 C362.57,146.10 363.85,146.63 365.10,147.10 C366.35,147.57 367.65,147.95 368.80,148.60 C369.95,149.25 370.85,149.87 372.00,151.00 C373.15,152.13 374.55,153.85 375.70,155.40 C376.85,156.95 377.75,159.10 378.90,160.30 C380.05,161.50 381.45,161.38 382.60,162.60 C383.75,163.82 384.95,166.15 385.80,167.60 C386.65,169.05 386.87,169.75 387.70,171.30 C388.53,172.85 389.77,174.82 390.80,176.90 C391.83,178.98 392.85,181.60 393.90,183.80 C394.95,186.00 396.05,188.07 397.10,190.10 C398.15,192.13 399.27,193.93 400.20,196.00 C401.13,198.07 401.75,200.37 402.70,202.50 C403.65,204.63 405.37,207.75 405.90,208.80" fill="none" stroke="#f00" stroke-width="1.3" stroke-linejoin="round" stroke-linecap="round"/>
<path d="M322.90,182.60h2.00M323.90,181.60v2.00M329.20,171.30h2.00M330.20,170.30v2.00M339.20,154.80h2.00M340.20,153.80v2.00M348.50,147.00h2.00M349.50,146.00v2.00M352.60,145.40h2.00M353.60,144.40v2.00M356.50,145.30h2.00M357.50,144.30v2.00M360.30,145.80h2.00M361.30,144.80v2.00M364.10,147.10h2.00M365.10,146.10v2.00M367.80,148.60h2.00M368.80,147.60v2.00M371.00,151.00h2.00M372.00,150.00v2.00M374.70,155.40h2.00M375.70,154.40v2.00M377.90,160.30h2.00M378.90,159.30v2.00M381.60,162.60h2.00M382.60,161.60v2.00M386.70,171.30h2.00M387.70,170.30v2.00M389.80,176.90h2.00M390.80,175.90v2.00M392.90,183.80h2.00M393.90,182.80v2.00M396.10,190.10h2.00M397.10,189.10v2.00M399.20,196.00h2.00M400.20,195.00v2.00M401.70,202.50h2.00M402.70,201.50v2.00" fill="none" stroke="#f00" stroke-width="0.7"/>
<text font-size="8.0" stroke="#000" stroke-width="0.14" text-anchor="start" fill="#000" font-weight="bold" transform="translate(269.20 123.80) scale(1.08 1)">(g)</text>
<rect x="294.80" y="139.80" width="111.10" height="84.70" fill="none" stroke="#000" stroke-width="1.5" rx="0"/>
<line x1="295.6" y1="224.5" x2="315.4" y2="224.5" stroke="#f00" stroke-width="1.3" stroke-dasharray="1.6 0.9"/>
<line x1="294.80" y1="224.80" x2="297.00" y2="224.80" stroke="#000" stroke-width="1.0" stroke-linecap="butt"/>
<line x1="294.80" y1="219.48" x2="296.20" y2="219.48" stroke="#000" stroke-width="0.8" stroke-linecap="butt"/>
<text font-size="7.5" stroke="#000" stroke-width="0.14" text-anchor="end" fill="#000" font-weight="bold" transform="translate(292.40 227.45) scale(1.08 1)">0</text>
<line x1="294.80" y1="214.16" x2="297.00" y2="214.16" stroke="#000" stroke-width="1.0" stroke-linecap="butt"/>
<line x1="294.80" y1="208.84" x2="296.20" y2="208.84" stroke="#000" stroke-width="0.8" stroke-linecap="butt"/>
<text font-size="7.5" stroke="#000" stroke-width="0.14" text-anchor="end" fill="#000" font-weight="bold" transform="translate(292.40 216.81) scale(1.08 1)">1</text>
<line x1="294.80" y1="203.52" x2="297.00" y2="203.52" stroke="#000" stroke-width="1.0" stroke-linecap="butt"/>
<line x1="294.80" y1="198.20" x2="296.20" y2="198.20" stroke="#000" stroke-width="0.8" stroke-linecap="butt"/>
<text font-size="7.5" stroke="#000" stroke-width="0.14" text-anchor="end" fill="#000" font-weight="bold" transform="translate(292.40 206.17) scale(1.08 1)">2</text>
<line x1="294.80" y1="192.88" x2="297.00" y2="192.88" stroke="#000" stroke-width="1.0" stroke-linecap="butt"/>
<line x1="294.80" y1="187.56" x2="296.20" y2="187.56" stroke="#000" stroke-width="0.8" stroke-linecap="butt"/>
<text font-size="7.5" stroke="#000" stroke-width="0.14" text-anchor="end" fill="#000" font-weight="bold" transform="translate(292.40 195.53) scale(1.08 1)">3</text>
<line x1="294.80" y1="182.24" x2="297.00" y2="182.24" stroke="#000" stroke-width="1.0" stroke-linecap="butt"/>
<line x1="294.80" y1="176.92" x2="296.20" y2="176.92" stroke="#000" stroke-width="0.8" stroke-linecap="butt"/>
<text font-size="7.5" stroke="#000" stroke-width="0.14" text-anchor="end" fill="#000" font-weight="bold" transform="translate(292.40 184.89) scale(1.08 1)">4</text>
<line x1="294.80" y1="171.60" x2="297.00" y2="171.60" stroke="#000" stroke-width="1.0" stroke-linecap="butt"/>
<line x1="294.80" y1="166.28" x2="296.20" y2="166.28" stroke="#000" stroke-width="0.8" stroke-linecap="butt"/>
<text font-size="7.5" stroke="#000" stroke-width="0.14" text-anchor="end" fill="#000" font-weight="bold" transform="translate(292.40 174.25) scale(1.08 1)">5</text>
<line x1="294.80" y1="160.96" x2="297.00" y2="160.96" stroke="#000" stroke-width="1.0" stroke-linecap="butt"/>
<line x1="294.80" y1="155.64" x2="296.20" y2="155.64" stroke="#000" stroke-width="0.8" stroke-linecap="butt"/>
<text font-size="7.5" stroke="#000" stroke-width="0.14" text-anchor="end" fill="#000" font-weight="bold" transform="translate(292.40 163.61) scale(1.08 1)">6</text>
<line x1="294.80" y1="150.32" x2="297.00" y2="150.32" stroke="#000" stroke-width="1.0" stroke-linecap="butt"/>
<line x1="294.80" y1="145.00" x2="296.20" y2="145.00" stroke="#000" stroke-width="0.8" stroke-linecap="butt"/>
<text font-size="7.5" stroke="#000" stroke-width="0.14" text-anchor="end" fill="#000" font-weight="bold" transform="translate(292.40 152.97) scale(1.08 1)">7</text>
<line x1="294.80" y1="139.68" x2="297.00" y2="139.68" stroke="#000" stroke-width="1.0" stroke-linecap="butt"/>
<text font-size="7.5" stroke="#000" stroke-width="0.14" text-anchor="end" fill="#000" font-weight="bold" transform="translate(292.40 142.33) scale(1.08 1)">8</text>
<line x1="294.80" y1="224.50" x2="294.80" y2="222.30" stroke="#000" stroke-width="1.0" stroke-linecap="butt"/>
<line x1="304.00" y1="224.50" x2="304.00" y2="223.10" stroke="#000" stroke-width="0.8" stroke-linecap="butt"/>
<text font-size="7.5" stroke="#000" stroke-width="0.14" text-anchor="middle" fill="#000" font-weight="bold" transform="translate(294.80 232.80) scale(1.08 1)">2</text>
<line x1="313.25" y1="224.50" x2="313.25" y2="222.30" stroke="#000" stroke-width="1.0" stroke-linecap="butt"/>
<line x1="322.45" y1="224.50" x2="322.45" y2="223.10" stroke="#000" stroke-width="0.8" stroke-linecap="butt"/>
<text font-size="7.5" stroke="#000" stroke-width="0.14" text-anchor="middle" fill="#000" font-weight="bold" transform="translate(313.25 232.80) scale(1.08 1)">3</text>
<line x1="331.70" y1="224.50" x2="331.70" y2="222.30" stroke="#000" stroke-width="1.0" stroke-linecap="butt"/>
<line x1="340.90" y1="224.50" x2="340.90" y2="223.10" stroke="#000" stroke-width="0.8" stroke-linecap="butt"/>
<text font-size="7.5" stroke="#000" stroke-width="0.14" text-anchor="middle" fill="#000" font-weight="bold" transform="translate(331.70 232.80) scale(1.08 1)">4</text>
<line x1="350.15" y1="224.50" x2="350.15" y2="222.30" stroke="#000" stroke-width="1.0" stroke-linecap="butt"/>
<line x1="359.35" y1="224.50" x2="359.35" y2="223.10" stroke="#000" stroke-width="0.8" stroke-linecap="butt"/>
<text font-size="7.5" stroke="#000" stroke-width="0.14" text-anchor="middle" fill="#000" font-weight="bold" transform="translate(350.15 232.80) scale(1.08 1)">5</text>
<line x1="368.60" y1="224.50" x2="368.60" y2="222.30" stroke="#000" stroke-width="1.0" stroke-linecap="butt"/>
<line x1="377.80" y1="224.50" x2="377.80" y2="223.10" stroke="#000" stroke-width="0.8" stroke-linecap="butt"/>
<text font-size="7.5" stroke="#000" stroke-width="0.14" text-anchor="middle" fill="#000" font-weight="bold" transform="translate(368.60 232.80) scale(1.08 1)">6</text>
<line x1="387.05" y1="224.50" x2="387.05" y2="222.30" stroke="#000" stroke-width="1.0" stroke-linecap="butt"/>
<line x1="396.25" y1="224.50" x2="396.25" y2="223.10" stroke="#000" stroke-width="0.8" stroke-linecap="butt"/>
<text font-size="7.5" stroke="#000" stroke-width="0.14" text-anchor="middle" fill="#000" font-weight="bold" transform="translate(387.05 232.80) scale(1.08 1)">7</text>
<line x1="405.50" y1="224.50" x2="405.50" y2="222.30" stroke="#000" stroke-width="1.0" stroke-linecap="butt"/>
<text font-size="7.5" stroke="#000" stroke-width="0.14" text-anchor="middle" fill="#000" font-weight="bold" transform="translate(405.50 232.80) scale(1.08 1)">8</text>
<text font-size="9.8" stroke="#000" stroke-width="0.14" text-anchor="middle" fill="#000" font-weight="bold" transform="translate(350.50 242.60) scale(1.08 1)" textLength="50.56" lengthAdjust="spacingAndGlyphs">Voltage (V)</text>
<text font-size="9.8" stroke="#000" stroke-width="0.14" text-anchor="middle" fill="#000" font-weight="bold" transform="translate(283.20 182.10) scale(1.08 1) rotate(-90)">EQE (%)</text>
<line x1="295.60" y1="145.40" x2="310.70" y2="145.40" stroke="#f00" stroke-width="1.3" stroke-linecap="butt"/>
<line x1="303.20" y1="144.20" x2="303.20" y2="146.60" stroke="#f00" stroke-width="0.8" stroke-linecap="butt"/>
<text font-size="5.9" stroke="#000" stroke-width="0.1" text-anchor="start" fill="#000" font-weight="bold" transform="translate(312.60 147.50) scale(1.08 1)">Zn-CsPbI<tspan font-size="4.0" dy="1.2">3</tspan></text>
<polyline points="429.60,106.90 430.00,106.90 430.40,106.90 430.80,106.90 431.20,106.90 431.60,106.90 432.00,106.90 432.40,106.90 432.80,106.90 433.20,106.90 433.60,106.90 434.00,106.90 434.40,106.90 434.80,106.90 435.20,106.90 435.60,106.90 436.00,106.90 436.40,106.90 436.80,106.90 437.20,106.90 437.60,106.90 438.00,106.90 438.40,106.90 438.80,106.90 439.20,106.90 439.60,106.90 440.00,106.90 440.40,106.90 440.80,106.90 441.20,106.90 441.60,106.89 442.00,106.89 442.40,106.89 442.80,106.88 443.20,106.88 443.60,106.87 444.00,106.86 444.40,106.86 444.80,106.85 445.20,106.84 445.60,106.83 446.00,106.82 446.40,106.81 446.80,106.80 447.20,106.79 447.60,106.77 448.00,106.76 448.40,106.75 448.80,106.73 449.20,106.72 449.60,106.70 450.00,106.68 450.40,106.64 450.80,106.60 451.20,106.54 451.60,106.47 452.00,106.39 452.40,106.31 452.80,106.22 453.20,106.12 453.60,106.01 454.00,105.90 454.40,105.79 454.80,105.67 455.20,105.53 455.60,105.37 456.00,105.18 456.40,104.98 456.80,104.75 457.20,104.50 457.60,104.24 458.00,103.96 458.40,103.66 458.80,103.35 459.20,103.02 459.60,102.69 460.00,102.32 460.40,101.91 460.80,101.44 461.20,100.92 461.60,100.37 462.00,99.79 462.40,99.19 462.80,98.56 463.20,97.92 463.60,97.27 464.00,96.60 464.40,95.91 464.80,95.18 465.20,94.42 465.60,93.62 466.00,92.78 466.40,91.90 466.80,90.97 467.20,90.00 467.60,88.95 468.00,87.80 468.40,86.56 468.80,85.25 469.20,83.87 469.60,82.45 470.00,81.00 470.40,79.45 470.80,77.78 471.20,76.04 471.60,74.29 472.00,72.60 472.40,70.97 472.80,69.38 473.20,67.80 473.60,66.21 474.00,64.60 474.40,62.93 474.80,61.19 475.20,59.39 475.60,57.54 476.00,55.66 476.40,53.78 476.80,51.92 477.20,50.10 477.60,48.31 478.00,46.53 478.40,44.77 478.80,43.03 479.20,41.30 479.60,39.54 480.00,37.82 480.40,36.20 480.80,34.75 481.20,33.35 481.60,32.01 482.00,30.80 482.40,29.80 482.80,29.04 483.20,28.37 483.60,27.81 484.00,27.42 484.40,27.22 484.80,27.08 485.20,26.97 485.60,26.91 486.00,26.91 486.40,27.01 486.80,27.18 487.20,27.40 487.60,27.77 488.00,28.34 488.40,29.04 488.80,29.78 489.20,30.64 489.60,31.62 490.00,32.70 490.40,33.87 490.80,35.10 491.20,36.46 491.60,37.97 492.00,39.61 492.40,41.31 492.80,43.04 493.20,44.86 493.60,46.78 494.00,48.70 494.40,50.56 494.80,52.38 495.20,54.18 495.60,55.98 496.00,57.75 496.40,59.50 496.80,61.22 497.20,62.92 497.60,64.58 498.00,66.22 498.40,67.83 498.80,69.43 499.20,71.02 499.60,72.60 500.00,74.22 500.40,75.85 500.80,77.46 501.20,78.96 501.60,80.33 502.00,81.58 502.40,82.74 502.80,83.81 503.20,84.77 503.60,85.68 504.00,86.55 504.40,87.37 504.80,88.15 505.20,88.90 505.60,89.63 506.00,90.33 506.40,91.01 506.80,91.68 507.20,92.34 507.60,92.98 508.00,93.59 508.40,94.19 508.80,94.76 509.20,95.31 509.60,95.83 510.00,96.32 510.40,96.80 510.80,97.27 511.20,97.72 511.60,98.17 512.00,98.60 512.40,99.02 512.80,99.42 513.20,99.80 513.60,100.16 514.00,100.51 514.40,100.83 514.80,101.13 515.20,101.41 515.60,101.68 516.00,101.95 516.40,102.21 516.80,102.46 517.20,102.71 517.60,102.94 518.00,103.17 518.40,103.38 518.80,103.59 519.20,103.78 519.60,103.96 520.00,104.12 520.40,104.27 520.80,104.41 521.20,104.53 521.60,104.64 522.00,104.75 522.40,104.86 522.80,104.96 523.20,105.06 523.60,105.15 524.00,105.24 524.40,105.33 524.80,105.41 525.20,105.49 525.60,105.56 526.00,105.63 526.40,105.70 526.80,105.76 527.20,105.82 527.60,105.87 528.00,105.92 528.40,105.97 528.80,106.01 529.20,106.05 529.60,106.09 530.00,106.13 530.40,106.17 530.80,106.21 531.20,106.25 531.60,106.29 532.00,106.33 532.40,106.37 532.80,106.40 533.20,106.44 533.60,106.47 534.00,106.50 534.40,106.54 534.80,106.57 535.20,106.59 535.60,106.62 536.00,106.65 536.40,106.67 536.80,106.69 537.20,106.71 537.60,106.73 538.00,106.75 538.40,106.76 538.80,106.77 539.20,106.78 539.60,106.79 540.00,106.80 540.40,106.80" fill="none" stroke="#777" stroke-width="1.1" stroke-linejoin="round" stroke-linecap="round"/>
<polyline points="429.60,106.90 430.00,106.90 430.40,106.90 430.80,106.90 431.20,106.90 431.60,106.90 432.00,106.90 432.40,106.90 432.80,106.90 433.20,106.90 433.60,106.90 434.00,106.90 434.40,106.90 434.80,106.90 435.20,106.90 435.60,106.90 436.00,106.90 436.40,106.90 436.80,106.90 437.20,106.90 437.60,106.90 438.00,106.90 438.40,106.90 438.80,106.90 439.20,106.90 439.60,106.90 440.00,106.90 440.40,106.90 440.80,106.90 441.20,106.90 441.60,106.89 442.00,106.89 442.40,106.89 442.80,106.88 443.20,106.88 443.60,106.87 444.00,106.86 444.40,106.86 444.80,106.85 445.20,106.84 445.60,106.83 446.00,106.82 446.40,106.81 446.80,106.80 447.20,106.79 447.60,106.77 448.00,106.76 448.40,106.75 448.80,106.73 449.20,106.72 449.60,106.70 450.00,106.68 450.40,106.64 450.80,106.60 451.20,106.54 451.60,106.47 452.00,106.39 452.40,106.31 452.80,106.22 453.20,106.12 453.60,106.01 454.00,105.90 454.40,105.79 454.80,105.67 455.20,105.53 455.60,105.37 456.00,105.18 456.40,104.98 456.80,104.75 457.20,104.50 457.60,104.24 458.00,103.96 458.40,103.66 458.80,103.35 459.20,103.02 459.60,102.69 460.00,102.32 460.40,101.91 460.80,101.44 461.20,100.92 461.60,100.37 462.00,99.79 462.40,99.19 462.80,98.56 463.20,97.92 463.60,97.27 464.00,96.60 464.40,95.91 464.80,95.18 465.20,94.42 465.60,93.62 466.00,92.78 466.40,91.90 466.80,90.97 467.20,90.00 467.60,88.95 468.00,87.80 468.40,86.56 468.80,85.25 469.20,83.87 469.60,82.45 470.00,81.00 470.40,79.45 470.80,77.78 471.20,76.04 471.60,74.29 472.00,72.60 472.40,70.97 472.80,69.38 473.20,67.80 473.60,66.21 474.00,64.60 474.40,62.93 474.80,61.19 475.20,59.39 475.60,57.54 476.00,55.66 476.40,53.78 476.80,51.92 477.20,50.10 477.60,48.31 478.00,46.53 478.40,44.77 478.80,43.03 479.20,41.30 479.60,39.54 480.00,37.82 480.40,36.20 480.80,34.75 481.20,33.35 481.60,32.01 482.00,30.80 482.40,29.80 482.80,29.04 483.20,28.37 483.60,27.81 484.00,27.42 484.40,27.22 484.80,27.08 485.20,26.97 485.60,26.91 486.00,26.91 486.40,27.01 486.80,27.18 487.20,27.40 487.60,27.77 488.00,28.34 488.40,29.04 488.80,29.78 489.20,30.64 489.60,31.62 490.00,32.70 490.40,33.87 490.80,35.10 491.20,36.46 491.60,37.97 492.00,39.61 492.40,41.31 492.80,43.04 493.20,44.86 493.60,46.78 494.00,48.70 494.40,50.56 494.80,52.38 495.20,54.18 495.60,55.98 496.00,57.75 496.40,59.50 496.80,61.22 497.20,62.92 497.60,64.58 498.00,66.22 498.40,67.83 498.80,69.43 499.20,71.02 499.60,72.60 500.00,74.22 500.40,75.85 500.80,77.46 501.20,78.96 501.60,80.33 502.00,81.58 502.40,82.74 502.80,83.81 503.20,84.77 503.60,85.68 504.00,86.55 504.40,87.37 504.80,88.15 505.20,88.90 505.60,89.63 506.00,90.33 506.40,91.01 506.80,91.68 507.20,92.34 507.60,92.98 508.00,93.59 508.40,94.19 508.80,94.76 509.20,95.31 509.60,95.83 510.00,96.32 510.40,96.80 510.80,97.27 511.20,97.72 511.60,98.17 512.00,98.60 512.40,99.02 512.80,99.42 513.20,99.80 513.60,100.16 514.00,100.51 514.40,100.83 514.80,101.13 515.20,101.41 515.60,101.68 516.00,101.95 516.40,102.21 516.80,102.46 517.20,102.71 517.60,102.94 518.00,103.17 518.40,103.38 518.80,103.59 519.20,103.78 519.60,103.96 520.00,104.12 520.40,104.27 520.80,104.41 521.20,104.53 521.60,104.64 522.00,104.75 522.40,104.86 522.80,104.96 523.20,105.06 523.60,105.15 524.00,105.24 524.40,105.33 524.80,105.41 525.20,105.49 525.60,105.56 526.00,105.63 526.40,105.70 526.80,105.76 527.20,105.82 527.60,105.87 528.00,105.92 528.40,105.97 528.80,106.01 529.20,106.05 529.60,106.09 530.00,106.13 530.40,106.17 530.80,106.21 531.20,106.25 531.60,106.29 532.00,106.33 532.40,106.37 532.80,106.40 533.20,106.44 533.60,106.47 534.00,106.50 534.40,106.54 534.80,106.57 535.20,106.59 535.60,106.62 536.00,106.65 536.40,106.67 536.80,106.69 537.20,106.71 537.60,106.73 538.00,106.75 538.40,106.76 538.80,106.77 539.20,106.78 539.60,106.79 540.00,106.80 540.40,106.80" fill="none" stroke="#0c0c0c" stroke-width="2.2" stroke-linejoin="round" stroke-linecap="round" stroke-dasharray="0.1 2.35"/>
<text font-size="8.0" stroke="#000" stroke-width="0.14" text-anchor="start" fill="#000" font-weight="bold" transform="translate(404.00 9.10) scale(1.08 1)">(d)</text>
<rect x="429.50" y="22.20" width="111.50" height="85.20" fill="none" stroke="#000" stroke-width="1.5" rx="0"/>
<line x1="429.50" y1="31.80" x2="431.70" y2="31.80" stroke="#000" stroke-width="1.0" stroke-linecap="butt"/>
<line x1="429.50" y1="50.70" x2="431.70" y2="50.70" stroke="#000" stroke-width="1.0" stroke-linecap="butt"/>
<line x1="429.50" y1="69.60" x2="431.70" y2="69.60" stroke="#000" stroke-width="1.0" stroke-linecap="butt"/>
<line x1="429.50" y1="88.50" x2="431.70" y2="88.50" stroke="#000" stroke-width="1.0" stroke-linecap="butt"/>
<line x1="447.90" y1="107.40" x2="447.90" y2="105.20" stroke="#000" stroke-width="1.0" stroke-linecap="butt"/>
<text font-size="7.5" stroke="#000" stroke-width="0.14" text-anchor="middle" fill="#000" font-weight="bold" transform="translate(447.90 115.70) scale(1.08 1)">450</text>
<line x1="471.00" y1="107.40" x2="471.00" y2="105.20" stroke="#000" stroke-width="1.0" stroke-linecap="butt"/>
<text font-size="7.5" stroke="#000" stroke-width="0.14" text-anchor="middle" fill="#000" font-weight="bold" transform="translate(471.00 115.70) scale(1.08 1)">475</text>
<line x1="494.10" y1="107.40" x2="494.10" y2="105.20" stroke="#000" stroke-width="1.0" stroke-linecap="butt"/>
<text font-size="7.5" stroke="#000" stroke-width="0.14" text-anchor="middle" fill="#000" font-weight="bold" transform="translate(494.10 115.70) scale(1.08 1)">500</text>
<line x1="517.20" y1="107.40" x2="517.20" y2="105.20" stroke="#000" stroke-width="1.0" stroke-linecap="butt"/>
<text font-size="7.5" stroke="#000" stroke-width="0.14" text-anchor="middle" fill="#000" font-weight="bold" transform="translate(517.20 115.70) scale(1.08 1)">525</text>
<line x1="540.30" y1="107.40" x2="540.30" y2="105.20" stroke="#000" stroke-width="1.0" stroke-linecap="butt"/>
<text font-size="7.5" stroke="#000" stroke-width="0.14" text-anchor="middle" fill="#000" font-weight="bold" transform="translate(540.30 115.70) scale(1.08 1)">550</text>
<line x1="436.35" y1="107.40" x2="436.35" y2="106.00" stroke="#000" stroke-width="0.8" stroke-linecap="butt"/>
<line x1="459.45" y1="107.40" x2="459.45" y2="106.00" stroke="#000" stroke-width="0.8" stroke-linecap="butt"/>
<line x1="482.55" y1="107.40" x2="482.55" y2="106.00" stroke="#000" stroke-width="0.8" stroke-linecap="butt"/>
<line x1="505.65" y1="107.40" x2="505.65" y2="106.00" stroke="#000" stroke-width="0.8" stroke-linecap="butt"/>
<line x1="528.75" y1="107.40" x2="528.75" y2="106.00" stroke="#000" stroke-width="0.8" stroke-linecap="butt"/>
<text font-size="9.8" stroke="#000" stroke-width="0.14" text-anchor="middle" fill="#000" font-weight="bold" transform="translate(484.20 125.40) scale(1.08 1)" textLength="77.78" lengthAdjust="spacingAndGlyphs">Wavelength (nm)</text>
<text font-size="9.2" stroke="#000" stroke-width="0.14" text-anchor="middle" fill="#000" font-weight="bold" transform="translate(424.00 64.75) scale(1.0 1) rotate(-90)" textLength="83.90" lengthAdjust="spacingAndGlyphs">EL intensity (a.u.)</text>
<line x1="432.00" y1="29.00" x2="446.10" y2="29.00" stroke="#666" stroke-width="1.1" stroke-linecap="butt"/>
<rect x="438.30" y="28.20" width="1.60" height="1.60" fill="#222" stroke="none" stroke-width="1.0" rx="0"/>
<text font-size="5.7" stroke="#000" stroke-width="0.1" text-anchor="start" fill="#000" font-weight="bold" transform="translate(448.40 31.00) scale(1.08 1)">Blue MHP</text>
<text font-size="8.0" stroke="#000" stroke-width="0.14" text-anchor="start" fill="#000" font-weight="bold" transform="translate(399.30 123.80) scale(1.08 1)">(h)</text>
<rect x="429.70" y="139.90" width="111.50" height="85.00" fill="none" stroke="#000" stroke-width="1.5" rx="0"/>
<polyline points="430.20,224.40 430.60,224.40 431.00,224.40 431.40,224.40 431.80,224.40 432.20,224.40 432.60,224.40 433.00,224.40 433.40,224.40 433.80,224.40 434.20,224.40 434.60,224.40 435.00,224.40 435.40,224.40 435.80,224.40 436.20,224.40 436.60,224.40 437.00,224.40 437.40,224.40 437.80,224.40 438.20,224.40 438.60,224.40 439.00,224.40 439.40,224.40 439.80,224.40 440.20,224.40 440.60,224.40 441.00,224.40 441.40,224.40 441.80,224.40 442.20,224.40 442.60,224.40 443.00,224.40 443.40,224.40 443.80,224.40 444.20,224.40 444.60,224.40 445.00,224.40 445.40,224.39 445.80,224.39 446.20,224.38 446.60,224.38 447.00,224.37 447.40,224.36 447.80,224.36 448.20,224.35 448.60,224.34 449.00,224.33 449.40,224.31 449.80,224.30 450.20,224.29 450.60,224.28 451.00,224.26 451.40,224.25 451.80,224.23 452.20,224.21 452.60,224.20 453.00,224.18 453.40,224.16 453.80,224.14 454.20,224.12 454.60,224.10 455.00,224.08 455.40,224.06 455.80,224.03 456.20,224.01 456.60,223.99 457.00,223.96 457.40,223.92 457.80,223.87 458.20,223.82 458.60,223.76 459.00,223.70 459.40,223.63 459.80,223.55 460.20,223.47 460.60,223.38 461.00,223.29 461.40,223.20 461.80,223.10 462.20,223.00 462.60,222.90 463.00,222.79 463.40,222.67 463.80,222.53 464.20,222.38 464.60,222.22 465.00,222.04 465.40,221.85 465.80,221.65 466.20,221.44 466.60,221.21 467.00,220.96 467.40,220.70 467.80,220.43 468.20,220.11 468.60,219.74 469.00,219.32 469.40,218.85 469.80,218.35 470.20,217.82 470.60,217.27 471.00,216.69 471.40,216.10 471.80,215.47 472.20,214.77 472.60,214.02 473.00,213.23 473.40,212.40 473.80,211.54 474.20,210.67 474.60,209.80 475.00,208.94 475.40,208.07 475.80,207.18 476.20,206.24 476.60,205.23 477.00,204.11 477.40,202.83 477.80,201.27 478.20,199.51 478.60,197.71 479.00,196.00 479.40,194.41 479.80,192.87 480.20,191.32 480.60,189.75 481.00,188.10 481.40,186.39 481.80,184.63 482.20,182.83 482.60,180.95 483.00,179.01 483.40,176.96 483.80,174.74 484.20,172.43 484.60,170.11 485.00,167.84 485.40,165.54 485.80,163.26 486.20,161.10 486.60,159.14 487.00,157.24 487.40,155.44 487.80,153.84 488.20,152.50 488.60,151.36 489.00,150.35 489.40,149.57 489.80,149.08 490.20,148.67 490.60,148.36 491.00,148.21 491.40,148.26 491.80,148.50 492.20,148.86 492.60,149.30 493.00,149.99 493.40,151.01 493.80,152.20 494.20,153.47 494.60,154.93 495.00,156.56 495.40,158.30 495.80,160.10 496.20,161.99 496.60,164.01 497.00,166.15 497.40,168.40 497.80,170.92 498.20,173.67 498.60,176.31 499.00,178.50 499.40,180.35 499.80,182.02 500.20,183.57 500.60,185.06 501.00,186.55 501.40,188.10 501.80,189.69 502.20,191.27 502.60,192.85 503.00,194.42 503.40,196.00 503.80,197.64 504.20,199.31 504.60,200.91 505.00,202.30 505.40,203.51 505.80,204.64 506.20,205.70 506.60,206.70 507.00,207.64 507.40,208.54 507.80,209.39 508.20,210.21 508.60,211.00 509.00,211.77 509.40,212.51 509.80,213.22 510.20,213.90 510.60,214.54 511.00,215.14 511.40,215.71 511.80,216.23 512.20,216.72 512.60,217.21 513.00,217.67 513.40,218.12 513.80,218.54 514.20,218.94 514.60,219.32 515.00,219.67 515.40,220.00 515.80,220.30 516.20,220.56 516.60,220.82 517.00,221.06 517.40,221.30 517.80,221.52 518.20,221.74 518.60,221.94 519.00,222.13 519.40,222.31 519.80,222.47 520.20,222.61 520.60,222.74 521.00,222.85 521.40,222.95 521.80,223.03 522.20,223.12 522.60,223.20 523.00,223.28 523.40,223.36 523.80,223.43 524.20,223.50 524.60,223.56 525.00,223.62 525.40,223.68 525.80,223.73 526.20,223.78 526.60,223.83 527.00,223.87 527.40,223.90 527.80,223.94 528.20,223.97 528.60,223.99 529.00,224.02 529.40,224.04 529.80,224.06 530.20,224.08 530.60,224.10 531.00,224.12 531.40,224.14 531.80,224.16 532.20,224.18 532.60,224.20 533.00,224.22 533.40,224.23 533.80,224.25 534.20,224.27 534.60,224.28 535.00,224.29 535.40,224.31 535.80,224.32 536.20,224.33 536.60,224.34 537.00,224.35 537.40,224.36 537.80,224.37 538.20,224.38 538.60,224.38 539.00,224.39 539.40,224.39 539.80,224.40 540.20,224.40 540.60,224.40" fill="none" stroke="#ff0a14" stroke-width="1.9" stroke-linejoin="round" stroke-linecap="round"/>
<line x1="429.70" y1="161.90" x2="431.90" y2="161.90" stroke="#000" stroke-width="1.0" stroke-linecap="butt"/>
<line x1="429.70" y1="183.20" x2="431.90" y2="183.20" stroke="#000" stroke-width="1.0" stroke-linecap="butt"/>
<line x1="429.70" y1="204.00" x2="431.90" y2="204.00" stroke="#000" stroke-width="1.0" stroke-linecap="butt"/>
<line x1="429.70" y1="151.20" x2="431.10" y2="151.20" stroke="#000" stroke-width="0.8" stroke-linecap="butt"/>
<line x1="429.70" y1="172.50" x2="431.10" y2="172.50" stroke="#000" stroke-width="0.8" stroke-linecap="butt"/>
<line x1="429.70" y1="193.60" x2="431.10" y2="193.60" stroke="#000" stroke-width="0.8" stroke-linecap="butt"/>
<line x1="429.70" y1="214.40" x2="431.10" y2="214.40" stroke="#000" stroke-width="0.8" stroke-linecap="butt"/>
<line x1="441.00" y1="224.90" x2="441.00" y2="222.70" stroke="#000" stroke-width="1.0" stroke-linecap="butt"/>
<text font-size="7.5" stroke="#000" stroke-width="0.14" text-anchor="middle" fill="#000" font-weight="bold" transform="translate(441.00 232.80) scale(1.08 1)">600</text>
<line x1="468.70" y1="224.90" x2="468.70" y2="222.70" stroke="#000" stroke-width="1.0" stroke-linecap="butt"/>
<text font-size="7.5" stroke="#000" stroke-width="0.14" text-anchor="middle" fill="#000" font-weight="bold" transform="translate(468.70 232.80) scale(1.08 1)">650</text>
<line x1="496.50" y1="224.90" x2="496.50" y2="222.70" stroke="#000" stroke-width="1.0" stroke-linecap="butt"/>
<text font-size="7.5" stroke="#000" stroke-width="0.14" text-anchor="middle" fill="#000" font-weight="bold" transform="translate(496.50 232.80) scale(1.08 1)">700</text>
<line x1="524.20" y1="224.90" x2="524.20" y2="222.70" stroke="#000" stroke-width="1.0" stroke-linecap="butt"/>
<text font-size="7.5" stroke="#000" stroke-width="0.14" text-anchor="middle" fill="#000" font-weight="bold" transform="translate(524.20 232.80) scale(1.08 1)">750</text>
<line x1="454.85" y1="224.90" x2="454.85" y2="223.50" stroke="#000" stroke-width="0.8" stroke-linecap="butt"/>
<line x1="482.60" y1="224.90" x2="482.60" y2="223.50" stroke="#000" stroke-width="0.8" stroke-linecap="butt"/>
<line x1="510.35" y1="224.90" x2="510.35" y2="223.50" stroke="#000" stroke-width="0.8" stroke-linecap="butt"/>
<line x1="538.05" y1="224.90" x2="538.05" y2="223.50" stroke="#000" stroke-width="0.8" stroke-linecap="butt"/>
<text font-size="9.8" stroke="#000" stroke-width="0.14" text-anchor="middle" fill="#000" font-weight="bold" transform="translate(485.30 242.40) scale(1.08 1)" textLength="78.24" lengthAdjust="spacingAndGlyphs">Wavelength (nm)</text>
<text font-size="9.2" stroke="#000" stroke-width="0.14" text-anchor="middle" fill="#000" font-weight="bold" transform="translate(424.00 182.70) scale(1.0 1) rotate(-90)" textLength="83.90" lengthAdjust="spacingAndGlyphs">EL intensity (a.u.)</text>
<line x1="432.30" y1="147.10" x2="446.50" y2="147.10" stroke="#f00" stroke-width="1.0" stroke-linecap="butt"/>
<rect x="439.20" y="146.30" width="1.60" height="1.60" fill="#e00" stroke="none" stroke-width="1.0" rx="0"/>
<text font-size="6.9" stroke="#000" stroke-width="0.14" text-anchor="start" fill="#000" font-weight="bold" transform="translate(449.00 149.40) scale(1.08 1)">Zn-CsPbI<tspan font-size="4.6" dy="1.4">3</tspan></text>
</svg>
</body>
</html>
